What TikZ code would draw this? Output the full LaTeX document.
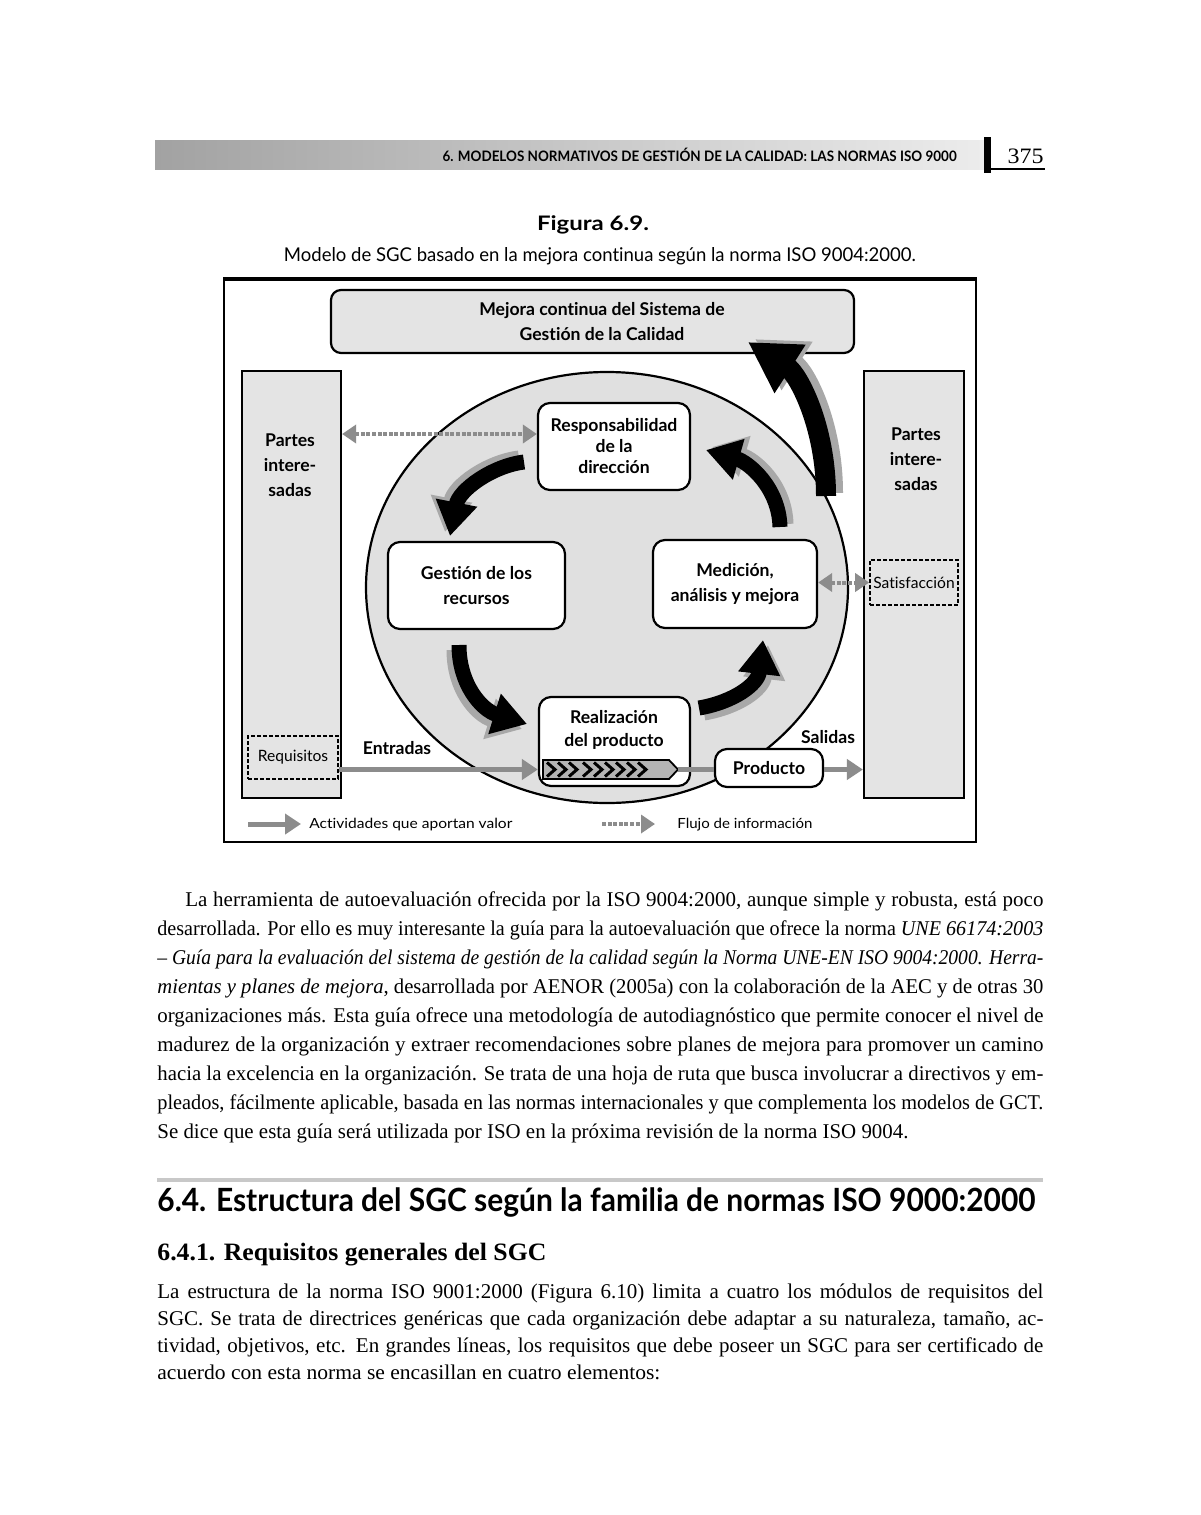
\documentclass[tikz,border=0pt]{standalone}
\usepackage{fontspec}
\setmainfont{Liberation Serif}
\newfontfamily\gs[Ligatures=NoCommon]{Lato}
\usepackage{graphicx}
\usetikzlibrary{arrows.meta,shapes.geometric}

\definecolor{lgray}{HTML}{E4E4E4}
\definecolor{egray}{HTML}{E0E0E0}
\definecolor{agray}{HTML}{8C8C8C}
\definecolor{sgray}{HTML}{A8A8A8}
\definecolor{chevgray}{HTML}{B4B4B4}
\definecolor{rulegray}{HTML}{C8C8C8}
\definecolor{hdrdark}{HTML}{A2A2A2}
\definecolor{hdrlight}{HTML}{ECECEC}

\newsavebox\lnbox
\newcommand\fitline[2]{\sbox\lnbox{#2}\ifdim\wd\lnbox>#1\relax\resizebox{#1}{\height}{\usebox\lnbox}\else\makebox[#1][s]{#2}\fi}
\newcommand\fitto[2]{\resizebox{#1}{\height}{#2}}

\begin{document}
\begin{tikzpicture}[x=0.5pt,y=-0.5pt,
  every node/.style={inner sep=0pt},
  body/.style={anchor=base west, font=\fontsize{10.5}{12}\selectfont},
  dbox/.style={draw, line width=1.1pt, rounded corners=6pt, fill=white, align=center, font=\gs\bfseries\fontsize{8.8}{12.5}\selectfont},
  lbl/.style={font=\gs\bfseries\fontsize{8.8}{12.5}\selectfont, align=center},
  colbox/.style={draw, line width=1.1pt, fill=lgray},
  dashbox/.style={draw, line width=0.8pt, dash pattern=on 2pt off 1pt, font=\gs\fontsize{7.8}{9}\selectfont},
  grayarrow/.style={draw=agray, line width=2.5pt, -{Triangle[width=10pt,length=8pt]}},
  dasharrow/.style={draw=agray, line width=2pt, dash pattern=on 2pt off 0.8pt, {Triangle[width=9pt,length=7pt]}-{Triangle[width=9pt,length=7pt]}},
  dasharrowone/.style={draw=agray, line width=2pt, dash pattern=on 2pt off 0.8pt, -{Triangle[width=9pt,length=7pt]}},
  cyc/.style={line width=7.5pt, -{Triangle[width=20pt,length=17pt]}},
  cycbig/.style={line width=10pt, -{Triangle[width=27pt,length=25pt]}},
]
\useasboundingbox (0,0) rectangle (1200,1515);
\fill[white] (0,0) rectangle (1200,1515);

% ---------- running header ----------
\shade[left color=hdrdark, right color=hdrlight] (155,140) rectangle (984,169);
\fill (984,137) rectangle (991,173);
\draw[line width=0.8pt] (991,169) -- (1045,169);
\node[anchor=base east, font=\gs\bfseries\fontsize{7.2}{8}\selectfont] (hdr) at (957,161) {\fitto{257pt}{6. MODELOS NORMATIVOS DE GESTIÓN DE LA CALIDAD: LAS NORMAS ISO 9000}};
\node[anchor=base east, font=\fontsize{11}{12}\selectfont] (pnum) at (1044,163) {\fitto{18pt}{375}};

% ---------- caption ----------
\node[anchor=base, font=\gs\bfseries\fontsize{10}{12}\selectfont] (fig) at (593,230) {\fitto{56pt}{Figura 6.9.}};
\node[anchor=base, font=\gs\fontsize{9.5}{12}\selectfont] (cap) at (600,261) {\fitto{316pt}{Modelo de SGC basado en la mejora continua según la norma ISO 9004:2000.}};

% ---------- diagram ----------
\node[draw, line width=1pt, minimum width=376pt, minimum height=281pt] (frame) at (600,561) {};
\draw[line width=2pt] (frame.north west) -- (frame.north east);

\node[colbox, minimum width=49.5pt, minimum height=213.5pt] (lcol) at (291.5,584.5) {};
\node[colbox, minimum width=50pt, minimum height=213.5pt] (rcol) at (914,584.5) {};
\node[lbl] (lpart) at (290,465) {Partes\\intere-\\sadas};
\node[lbl] (rpart) at (916,459) {Partes\\intere-\\sadas};

\node[draw, ellipse, line width=1.1pt, fill=egray, minimum width=241pt, minimum height=215.5pt] (circ) at (607,587.5) {};

\node[dbox, fill=lgray, rounded corners=5pt, minimum width=261.5pt, minimum height=31.5pt] (mejora) at (592.5,321.5) {};
\node[lbl] (mejoratxt) at (602,321.5) {Mejora continua del Sistema de\\Gestión de la Calidad};

\node[dashbox, minimum width=45pt, minimum height=21.5pt] (req) at (293,757.5) {Requisitos};
\node[dashbox, minimum width=44pt, minimum height=22.5pt] (sat) at (914,582.5) {Satisfacción};

% curved cycle arrows
\coordinate (a1s) at (524,462); \coordinate (a1e) at (450,536);
\coordinate (a2s) at (459,645); \coordinate (a2e) at (527,724);
\coordinate (a3s) at (699,708); \coordinate (a3e) at (763,640);
\coordinate (a4s) at (780,527); \coordinate (a4e) at (706,450);
\coordinate (a5s) at (826,496); \coordinate (a5e) at (748,342);

\draw[cyc, sgray] ([shift={(-5,-4)}]a1s) .. controls +(-32,4) and +(9,-46) .. ([shift={(-5,-4)}]a1e);
\draw[cyc, black] (a1s) .. controls +(-32,4) and +(9,-46) .. (a1e);

\draw[cyc, sgray] ([shift={(-5,5)}]a2s) .. controls +(0,40) and +(-45,-14) .. ([shift={(-5,5)}]a2e);
\draw[cyc, black] (a2s) .. controls +(0,40) and +(-45,-14) .. (a2e);

\draw[cyc, sgray] ([shift={(5,5)}]a3s) .. controls +(35,-6) and +(-5,44) .. ([shift={(5,5)}]a3e);
\draw[cyc, black] (a3s) .. controls +(35,-6) and +(-5,44) .. (a3e);

\draw[cyc, sgray] ([shift={(6,-3)}]a4s) .. controls +(-1,-40) and +(42,12) .. ([shift={(6,-3)}]a4e);
\draw[cyc, black] (a4s) .. controls +(-1,-40) and +(42,12) .. (a4e);

\draw[cycbig, sgray] ([shift={(7,-3)}]a5s) .. controls +(0,-70) and +(50,32) .. ([shift={(7,-3)}]a5e);
\draw[cycbig, black] (a5s) .. controls +(0,-70) and +(50,32) .. (a5e);

% process boxes
\node[dbox, minimum width=76pt, minimum height=43.5pt, font=\gs\bfseries\fontsize{8.8}{10.5}\selectfont] (resp) at (614,446.5) {Responsabilidad\\de la\\dirección};
\node[dbox, minimum width=88.5pt, minimum height=43.5pt] (gest) at (476.5,585.5) {Gestión de los\\recursos};
\node[dbox, minimum width=82pt, minimum height=44pt] (med) at (735,584) {Medición,\\análisis y mejora};
\node[dbox, minimum width=75.5pt, minimum height=44.5pt] (real) at (614.5,741.5) {};
\node[lbl, font=\gs\bfseries\fontsize{8.8}{11.2}\selectfont] (realtxt) at (614,730) {Realización\\del producto};
\node[dbox, minimum width=54pt, minimum height=19pt] (prod) at (769,768) {Producto};

% chevron strip
\filldraw[fill=chevgray, line width=0.9pt] (543,760) -- (669,760) -- (678,769.5) -- (669,779) -- (543,779) -- cycle;
\coordinate (chevtail) at (543,769.5);
\coordinate (chevtip) at (678,769.5);
\foreach \cx in {547,558,569,583,594,605,616,627,638}
  \draw[line width=1.5pt] (\cx,762.5) -- (\cx+8,769.5) -- (\cx,776.5);

% flows
\draw[grayarrow] (req.east |- chevtail) -- (real.west |- chevtail);
\draw[draw=agray, line width=2.5pt] (chevtip) -- (prod.west |- chevtip);
\draw[grayarrow] (prod.east |- chevtip) -- (rcol.west |- chevtip);
\coordinate (dl) at (0,434);
\draw[dasharrow] (lcol.east |- dl) -- (resp.west |- dl);
\draw[dasharrow] (med.east |- sat.west) -- (sat.west);

\node[lbl] (ent) at (397,748) {Entradas};
\node[lbl] (sal) at (828,737) {Salidas};

% legend
\coordinate (lga) at (248,824); \coordinate (lgb) at (301,824);
\draw[grayarrow] (lga) -- (lgb);
\node[anchor=west, font=\gs\fontsize{7}{8}\selectfont] (lgt1) at (309,825) {\fitto{101.5pt}{Actividades que aportan valor}};
\coordinate (lgc) at (602,824); \coordinate (lgd) at (655,824);
\draw[dasharrowone] (lgc) -- (lgd);
\node[anchor=west, font=\gs\fontsize{7}{8}\selectfont] (lgt2) at (677,825) {\fitto{67.5pt}{Flujo de información}};

% ---------- body text, paragraph 1 ----------
\node[body] (p1a) at (185,906) {\fitline{429pt}{La herramienta de autoevaluación ofrecida por la ISO 9004:2000, aunque simple y robusta, está poco}};
\node[body] (p1b) at (157,935) {\fitline{443pt}{desarrollada. Por ello es muy interesante la guía para la autoevaluación que ofrece la norma \textit{UNE 66174:2003}}};
\node[body] (p1c) at (157,964) {\fitline{443pt}{\textit{– Guía para la evaluación del sistema de gestión de la calidad según la Norma UNE-EN ISO 9004:2000. Herra-}}};
\node[body] (p1d) at (157,993) {\fitline{443pt}{\textit{mientas y planes de mejora}, desarrollada por AENOR (2005a) con la colaboración de la AEC y de otras 30}};
\node[body] (p1e) at (157,1022) {\fitline{443pt}{organizaciones más. Esta guía ofrece una metodología de autodiagnóstico que permite conocer el nivel de}};
\node[body] (p1f) at (157,1051) {\fitline{443pt}{madurez de la organización y extraer recomendaciones sobre planes de mejora para promover un camino}};
\node[body] (p1g) at (157,1080) {\fitline{443pt}{hacia la excelencia en la organización. Se trata de una hoja de ruta que busca involucrar a directivos y em-}};
\node[body] (p1h) at (157,1109) {\fitline{443pt}{pleados, fácilmente aplicable, basada en las normas internacionales y que complementa los modelos de GCT.}};
\node[body] (p1i) at (157,1138) {\fitto{375.5pt}{Se dice que esta guía será utilizada por ISO en la próxima revisión de la norma ISO 9004.}};

% ---------- section heading ----------
\draw[rulegray, line width=2pt] (157,1180) -- (1043,1180);
\node[anchor=base west, font=\gs\bfseries\fontsize{16}{18}\selectfont] (h64) at (157,1211) {\fitto{439pt}{6.4. Estructura del SGC según la familia de normas ISO 9000:2000}};
\node[anchor=base west, font=\bfseries\fontsize{12.5}{14}\selectfont] (h641) at (157,1260) {\fitto{194.5pt}{6.4.1. Requisitos generales del SGC}};

% ---------- body text, paragraph 2 ----------
\node[body] (p2a) at (157,1298) {\fitline{443pt}{La estructura de la norma ISO 9001:2000 (Figura 6.10) limita a cuatro los módulos de requisitos del}};
\node[body] (p2b) at (157,1325) {\fitline{443pt}{SGC. Se trata de directrices genéricas que cada organización debe adaptar a su naturaleza, tamaño, ac-}};
\node[body] (p2c) at (157,1352) {\fitline{443pt}{tividad, objetivos, etc. En grandes líneas, los requisitos que debe poseer un SGC para ser certificado de}};
\node[body] (p2d) at (157,1379) {\fitto{251.5pt}{acuerdo con esta norma se encasillan en cuatro elementos:}};
\end{tikzpicture}
\end{document}
